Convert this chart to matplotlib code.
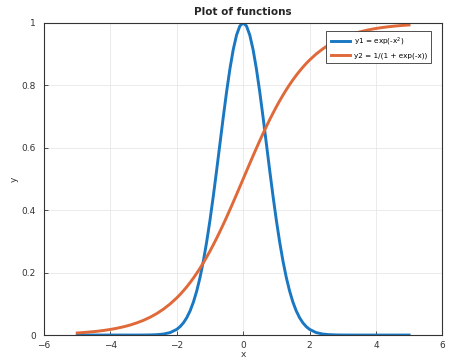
import matplotlib

matplotlib.use("Agg")

import matplotlib.pyplot as plt

# sample points (denser around the peak)
x_vals = [-5.0, -4.8, -4.6, -4.4, -4.2, -4.0, -3.8, -3.6, -3.4, -3.2, -3.0,
          -2.8, -2.6, -2.4, -2.2,
          -2.0, -1.9, -1.8, -1.7, -1.6, -1.5, -1.4, -1.3, -1.2, -1.1, -1.0,
          -0.9, -0.8, -0.7, -0.6, -0.5, -0.4, -0.3, -0.2, -0.1, 0.0,
          0.1, 0.2, 0.3, 0.4, 0.5, 0.6, 0.7, 0.8, 0.9, 1.0,
          1.1, 1.2, 1.3, 1.4, 1.5, 1.6, 1.7, 1.8, 1.9, 2.0,
          2.2, 2.4, 2.6, 2.8, 3.0,
          3.2, 3.4, 3.6, 3.8, 4.0, 4.2, 4.4, 4.6, 4.8, 5.0]
y1_vals = [0.0, 0.0, 0.0, 0.0, 0.0, 0.0, 0.0, 0.0, 0.0, 0.0, 0.0001,
           0.0004, 0.0012, 0.0032, 0.0079,
           0.0183, 0.0271, 0.0392, 0.0556, 0.0773, 0.1054, 0.1409, 0.1845, 0.2369, 0.2982, 0.3679,
           0.4449, 0.5273, 0.6126, 0.6977, 0.7788, 0.8521, 0.9139, 0.9608, 0.9900, 1.0,
           0.9900, 0.9608, 0.9139, 0.8521, 0.7788, 0.6977, 0.6126, 0.5273, 0.4449, 0.3679,
           0.2982, 0.2369, 0.1845, 0.1409, 0.1054, 0.0773, 0.0556, 0.0392, 0.0271, 0.0183,
           0.0079, 0.0032, 0.0012, 0.0004, 0.0001,
           0.0, 0.0, 0.0, 0.0, 0.0, 0.0, 0.0, 0.0, 0.0, 0.0]
y2_vals = [0.0067, 0.0082, 0.0100, 0.0121, 0.0148, 0.0180, 0.0219, 0.0266, 0.0323, 0.0392, 0.0474,
           0.0573, 0.0691, 0.0832, 0.0998,
           0.1192, 0.1301, 0.1419, 0.1545, 0.1680, 0.1824, 0.1978, 0.2142, 0.2315, 0.2497, 0.2689,
           0.2891, 0.3100, 0.3318, 0.3543, 0.3775, 0.4013, 0.4256, 0.4502, 0.4750, 0.5,
           0.5250, 0.5498, 0.5744, 0.5987, 0.6225, 0.6457, 0.6682, 0.6900, 0.7109, 0.7311,
           0.7503, 0.7685, 0.7858, 0.8022, 0.8176, 0.8320, 0.8455, 0.8581, 0.8699, 0.8808,
           0.9002, 0.9168, 0.9309, 0.9427, 0.9526,
           0.9608, 0.9677, 0.9734, 0.9781, 0.9820, 0.9852, 0.9879, 0.9900, 0.9918, 0.9933]

x_ticks = [-6, -4, -2, 0, 2, 4, 6]
y_ticks = [0, 0.2, 0.4, 0.6, 0.8, 1]
y_tick_labels = ["0", "0.2", "0.4", "0.6", "0.8", "1"]

fig = plt.figure(figsize=(4.74, 3.63), dpi=100)
ax = fig.add_axes([0.093, 0.077, 0.840, 0.860])

ax.plot(x_vals, y1_vals, color="#1a78c2", linewidth=2.1, label="y1 = exp(-x$^{2}$)")
ax.plot(x_vals, y2_vals, color="#e0693a", linewidth=2.1, label="y2 = 1/(1 + exp(-x))")

ax.set_xlim(-6, 6)
ax.set_ylim(0, 1)
ax.set_xticks(x_ticks)
ax.set_yticks(y_ticks, labels=y_tick_labels)
ax.tick_params(direction="in", length=3, width=0.6, labelsize=6.5, colors="#333333",
               top=False, right=False, pad=4)
ax.tick_params(axis="y", pad=6)
ax.grid(True, color="#e3e3e3", linewidth=0.5)
for spine in ax.spines.values():
    spine.set_color("#333333")
    spine.set_linewidth(0.8)

ax.set_xlabel("x", fontsize=6.5, color="#333333", labelpad=0)
ax.set_ylabel("y", fontsize=6.5, color="#333333", labelpad=2)
ax.set_title("Plot of functions", fontsize=7.5, fontweight="bold", color="#262626", pad=6)

leg = ax.legend(loc="upper right", fontsize=5.2, fancybox=False, framealpha=1,
                edgecolor="#333333", handlelength=2.6, handletextpad=0.6,
                borderpad=0.6, labelspacing=0.6, bbox_to_anchor=(0.982, 0.985))
leg.get_frame().set_linewidth(0.6)

fig.savefig("out.png", dpi=100)
